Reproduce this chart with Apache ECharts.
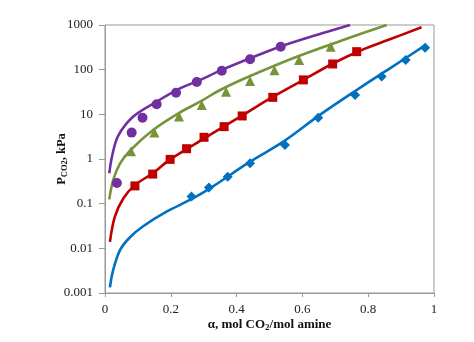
<!DOCTYPE html>
<html>
<head>
<meta charset="utf-8">
<script src="https://cdn.jsdelivr.net/npm/echarts@6/dist/echarts.min.js"></script>
<style>html,body{margin:0;padding:0;background:#fff;}#c{width:474px;height:342px;}</style>
</head>
<body>
<div id="c"></div>
<script>
// x tick labels and y tick labels
var xTickLabels = ['0', '0.2', '0.4', '0.6', '0.8', '1'];
var yTickLabels = ['0.001', '0.01', '0.1', '1', '10', '100', '1000'];

// Experimental points [alpha, P_CO2 (kPa)]
var purplePts = [[0.036,0.29],[0.081,3.9],[0.114,8.4],[0.157,16.8],[0.216,30.5],[0.279,53],[0.355,95],[0.441,171],[0.534,327]];
var greenPts  = [[0.079,1.5],[0.150,3.9],[0.225,8.9],[0.294,16.2],[0.368,32],[0.441,56],[0.515,97],[0.590,164],[0.686,327]];
var redPts    = [[0.091,0.25],[0.145,0.46],[0.198,0.98],[0.248,1.7],[0.301,3.06],[0.362,5.3],[0.417,9.2],[0.510,24],[0.603,59],[0.692,134],[0.765,253]];
var bluePts   = [[0.263,0.144],[0.316,0.23],[0.373,0.40],[0.441,0.80],[0.547,2.06],[0.648,8.4],[0.760,27],[0.841,70],[0.914,164],[0.973,310]];

// Model curves
var purpleLine = [[0.013,0.48],[0.022,1.2],[0.040,3.3],[0.086,8.9],[0.157,19.2],[0.228,38],[0.289,58.8],[0.350,95],[0.441,180],[0.532,327],[0.643,597],[0.745,1000]];
var greenLine  = [[0.013,0.125],[0.025,0.34],[0.046,0.8],[0.078,1.59],[0.147,4.5],[0.223,10.5],[0.289,19.2],[0.350,35],[0.441,72],[0.583,195],[0.724,461],[0.856,1000]];
var redLine    = [[0.015,0.014],[0.030,0.051],[0.056,0.132],[0.091,0.26],[0.147,0.49],[0.198,0.98],[0.319,3.45],[0.420,9.7],[0.511,24.8],[0.603,59],[0.694,139],[0.775,266],[0.866,479],[0.962,887]];
var blueLine   = [[0.015,0.00134],[0.025,0.0033],[0.046,0.0092],[0.076,0.0177],[0.117,0.0316],[0.187,0.066],[0.258,0.121],[0.319,0.22],[0.441,0.87],[0.542,2.44],[0.653,9.7],[0.765,35],[0.866,107],[0.967,327],[0.977,370]];

var colors = {purple:'#7030A0', green:'#77933C', red:'#C00000', blue:'#0070C0'};
var serif = '"Liberation Serif", "DejaVu Serif", serif';

function lineS(data, c) {
  return {type:'line', data:data, smooth:0.35, showSymbol:false, symbol:'none',
    lineStyle:{color:c, width:2.6}, itemStyle:{color:c}, z:2};
}
function ptS(data, c, sym, size) {
  return {type:'scatter', data:data, symbol:sym, symbolSize:size, itemStyle:{color:c, opacity:1}, z:3};
}

var chart = echarts.init(document.getElementById('c'), null, {renderer:'canvas'});
chart.setOption({
  backgroundColor:'#fff',
  animation:false,
  grid:{left:105, right:40, top:25, bottom:49, show:true, borderColor:'#999', borderWidth:1, backgroundColor:'transparent'},
  xAxis:{
    type:'value', min:0, max:1, interval:0.2,
    name:'α, mol CO{s|2}/mol amine', nameLocation:'middle', nameGap:24, nameMoveOverlap:false,
    nameTextStyle:{fontFamily:serif, fontWeight:'bold', fontSize:13, color:'#111',
      rich:{s:{fontFamily:serif, fontWeight:'bold', fontSize:9, color:'#111', verticalAlign:'bottom', padding:[6,0,0,0]}}},
    axisLine:{show:true, lineStyle:{color:'#999', width:1}},
    axisTick:{show:true, inside:false, length:4, lineStyle:{color:'#999'}},
    splitLine:{show:false},
    axisLabel:{fontFamily:serif, fontSize:13, color:'#222', margin:10,
      formatter:function(v){ return xTickLabels[Math.round(v/0.2)]; }}
  },
  yAxis:{
    type:'log', logBase:10, min:0.001, max:1000,
    name:'P{s|CO2}, kPa', nameLocation:'middle', nameGap:36, nameRotate:90, nameMoveOverlap:false,
    nameTextStyle:{fontFamily:serif, fontWeight:'bold', fontSize:12.5, color:'#111',
      rich:{s:{fontFamily:serif, fontWeight:'bold', fontSize:8.5, color:'#111', verticalAlign:'bottom', padding:[5,0,0,0]}}},
    axisLine:{show:true, lineStyle:{color:'#999', width:1}},
    axisTick:{show:true, inside:false, length:6, lineStyle:{color:'#999'}},
    minorTick:{show:false},
    splitLine:{show:false},
    axisLabel:{fontFamily:serif, fontSize:13, color:'#222', margin:12,
      formatter:function(v){ return yTickLabels[Math.round(Math.log10(v))+3]; }}
  },
  series:[
    lineS(blueLine, colors.blue),
    lineS(redLine, colors.red),
    lineS(greenLine, colors.green),
    lineS(purpleLine, colors.purple),
    ptS(bluePts, colors.blue, 'diamond', 10),
    ptS(redPts, colors.red, 'rect', 9),
    ptS(greenPts, colors.green, 'triangle', 10),
    ptS(purplePts, colors.purple, 'circle', 10)
  ]
});
</script>
</body>
</html>
